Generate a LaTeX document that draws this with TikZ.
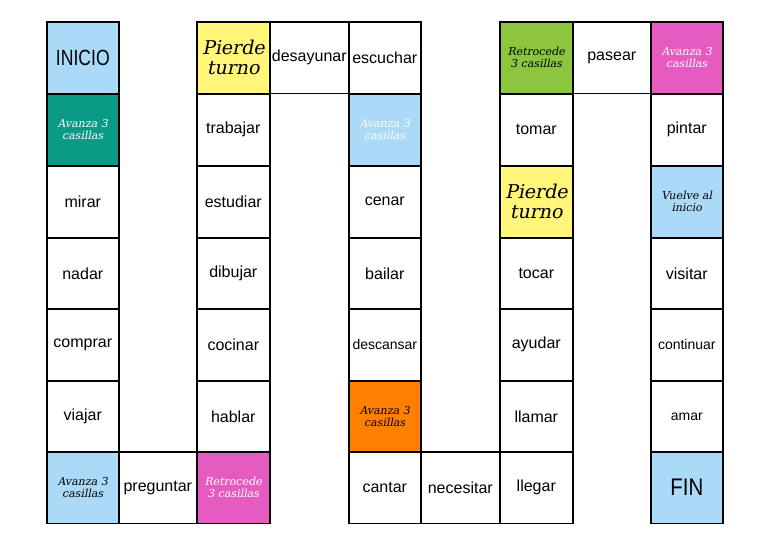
\documentclass[tikz,border=0pt]{standalone}
\usepackage{fontspec}
\setmainfont{Liberation Sans}
\newfontfamily\curs{DejaVu Serif}[FakeSlant=0.2]
\begin{document}
\begin{tikzpicture}[x=0.5pt,y=-0.5pt,
 cell/.style={draw=black,line width=0.8pt,minimum width=0.5pt*#1,minimum height=35.75pt,inner sep=0pt,anchor=north west,font=\fontsize{8}{9}\selectfont,align=center},
 cell/.default=73,
 cur/.style={font=\curs\fontsize{5.5}{6}\selectfont},
 big/.style={font=\curs\fontsize{9.5}{10}\selectfont}]
\definecolor{lb}{HTML}{ABD9F8}\definecolor{tl}{HTML}{0A9A85}\definecolor{yl}{HTML}{FFF67A}
\definecolor{pk}{HTML}{E65BC0}\definecolor{gr}{HTML}{8CC63F}\definecolor{og}{HTML}{FF8000}
\useasboundingbox (0,0) rectangle (768,543);
% column 1
\node[cell=72,fill=lb,font=\fontsize{11}{11}\selectfont] (a1) at (46,21) {\scalebox{0.8}[1]{INICIO}};
\node[cell=72,fill=tl,cur,text=white] (a2) at (46,93) {Avanza 3\\casillas};
\node[cell=72] (a3) at (46,165) {mirar};
\node[cell=72] (a4) at (46,237) {nadar};
\node[cell=72] (a5) at (46,308) {comprar};
\node[cell=72] (a6) at (46,380) {viajar};
\node[cell=72,fill=lb,cur] (a7) at (46,451) {Avanza 3\\casillas};
\node[cell=78] (b7) at (118,451) {preguntar};
% column 3
\node[cell=73,fill=yl,big] (c1) at (196,21) {Pierde\\turno};
\node[cell=73] (c2) at (196,93) {trabajar};
\node[cell=73] (c3) at (196,165) {estudiar};
\node[cell=73] (c4) at (196,237) {dibujar};
\node[cell=73] (c5) at (196,308) {cocinar};
\node[cell=73] (c6) at (196,380) {hablar};
\node[cell=73,fill=pk,cur,text=white] (c7) at (196,451) {Retrocede\\3 casillas};
\node[cell=79] (d1) at (269,21) {desayunar};
% column 5
\node[cell=72] (e1) at (348,21) {escuchar};
\node[cell=72,fill=lb,cur,text=white] (e2) at (348,93) {Avanza 3\\casillas};
\node[cell=72] (e3) at (348,165) {cenar};
\node[cell=72] (e4) at (348,237) {bailar};
\node[cell=72,font=\fontsize{7}{8}\selectfont] (e5) at (348,308) {descansar};
\node[cell=72,fill=og,cur] (e6) at (348,380) {Avanza 3\\casillas};
\node[cell=72] (e7) at (348,451) {cantar};
\node[cell=79] (f7) at (420,451) {necesitar};
% column 7
\node[cell=73,fill=gr,cur] (g1) at (499,21) {Retrocede\\3 casillas};
\node[cell=73] (g2) at (499,93) {tomar};
\node[cell=73,fill=yl,big] (g3) at (499,165) {Pierde\\turno};
\node[cell=73] (g4) at (499,237) {tocar};
\node[cell=73] (g5) at (499,308) {ayudar};
\node[cell=73] (g6) at (499,380) {llamar};
\node[cell=73] (g7) at (499,451) {llegar};
\node[cell=78] (h1) at (572,21) {pasear};
% column 9
\node[cell=72,fill=pk,cur,text=white] (i1) at (650,21) {Avanza 3\\casillas};
\node[cell=72] (i2) at (650,93) {pintar};
\node[cell=72,fill=lb,cur] (i3) at (650,165) {Vuelve al\\inicio};
\node[cell=72] (i4) at (650,237) {visitar};
\node[cell=72,font=\fontsize{7}{8}\selectfont] (i5) at (650,308) {continuar};
\node[cell=72,font=\fontsize{7}{8}\selectfont] (i6) at (650,380) {amar};
\node[cell=72,fill=lb,font=\fontsize{12}{12}\selectfont] (i7) at (650,451) {\scalebox{0.85}[1]{FIN}};
\end{tikzpicture}
\end{document}
